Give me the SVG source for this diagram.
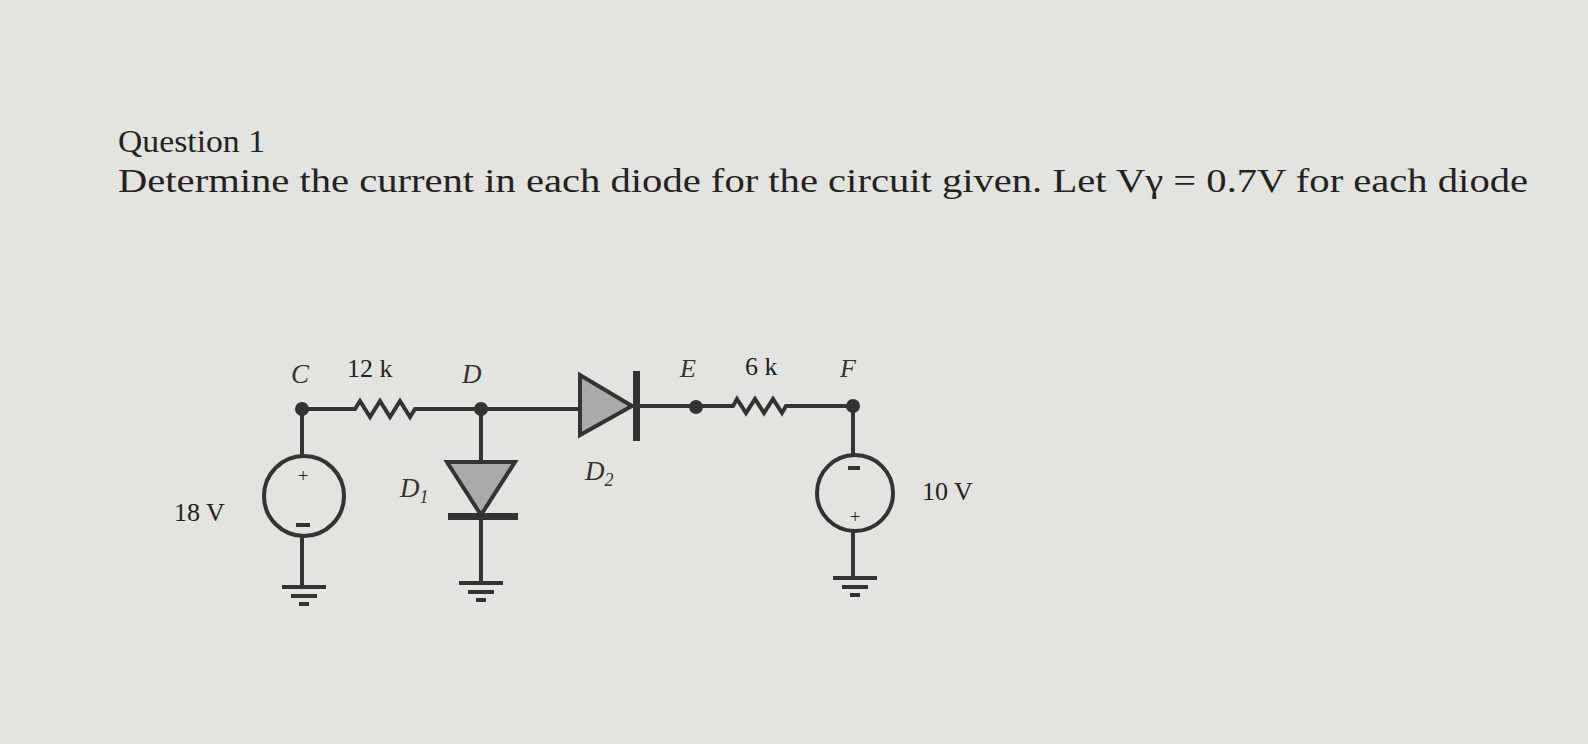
<svg xmlns="http://www.w3.org/2000/svg" width="1588" height="744" viewBox="0 0 1588 744">
<style>
.w{stroke:#333;stroke-width:4;fill:none}
.t{font-family:"Liberation Serif",serif;fill:#222}
.i{font-style:italic;fill:#333}
.dot{fill:#333}
.di{fill:#aaa;stroke:#333;stroke-width:4}
</style>
<defs>
<g id="gnd"><line class="w" x1="-22" y1="0" x2="22" y2="0"/><line class="w" x1="-13" y1="9" x2="13" y2="9"/><line class="w" x1="-5" y1="17" x2="5" y2="17"/></g>
</defs>
<rect width="1588" height="744" fill="#e3e3df"/>
<text class="t" x="118" y="152" font-size="31" textLength="147" lengthAdjust="spacingAndGlyphs">Question 1</text>
<text class="t" x="118" y="192" font-size="34" textLength="1410" lengthAdjust="spacingAndGlyphs">Determine the current in each diode for the circuit given. Let Vγ = 0.7V for each diode</text>
<g id="connectors">
<path class="w" d="M302 409 H355 l5 -8 l10 16 l10 -16 l10 16 l10 -16 l10 16 l5 -8 H580"/>
<line class="w" x1="302" y1="409" x2="302" y2="457"/>
<line class="w" x1="302" y1="535" x2="302" y2="587"/>
<line class="w" x1="481" y1="409" x2="481" y2="462"/>
<line class="w" x1="481" y1="516" x2="481" y2="583"/>
<path class="w" d="M637 406 H733 l4 -7 l9 14 l9 -14 l9 14 l9 -14 l9 14 l4 -7 H853"/>
<line class="w" x1="853" y1="406" x2="853" y2="455"/>
<line class="w" x1="853" y1="531" x2="853" y2="578"/>
</g>
<g id="C"><circle class="dot" cx="302" cy="409" r="7"/><text class="t i" x="291" y="383" font-size="27">C</text></g>
<g id="R1"><text class="t" x="347" y="377" font-size="26">12 k</text></g>
<g id="D"><circle class="dot" cx="481" cy="409" r="7"/><text class="t i" x="462" y="383" font-size="27">D</text></g>
<g id="V18"><circle class="w" cx="304" cy="496" r="40"/><text class="t" x="303" y="482" font-size="18" text-anchor="middle">+</text><line class="w" x1="296" y1="525" x2="310" y2="525"/><text class="t" x="174" y="521" font-size="26">18 V</text><use href="#gnd" x="304" y="587"/></g>
<g id="D1"><polygon class="di" points="447,462 515,462 481,515"/><rect x="448" y="513" width="70" height="7" fill="#333"/><text class="t i" x="400" y="497" font-size="27">D<tspan font-size="18" dy="6">1</tspan></text><use href="#gnd" x="481" y="583"/></g>
<g id="D2"><polygon class="di" points="580,375 580,435 632,406"/><rect x="633" y="371" width="7" height="70" fill="#333"/><text class="t i" x="585" y="480" font-size="27">D<tspan font-size="18" dy="6">2</tspan></text></g>
<g id="E"><circle class="dot" cx="696" cy="407" r="7"/><text class="t i" x="680" y="377" font-size="26">E</text></g>
<g id="R2"><text class="t" x="745" y="375" font-size="26">6 k</text></g>
<g id="F"><circle class="dot" cx="853" cy="406" r="7"/><text class="t i" x="840" y="377" font-size="26">F</text></g>
<g id="V10"><circle class="w" cx="855" cy="493" r="38"/><line class="w" x1="848" y1="468" x2="860" y2="468"/><text class="t" x="855" y="523" font-size="18" text-anchor="middle">+</text><text class="t" x="922" y="500" font-size="26">10 V</text><use href="#gnd" x="855" y="578"/></g>
</svg>
